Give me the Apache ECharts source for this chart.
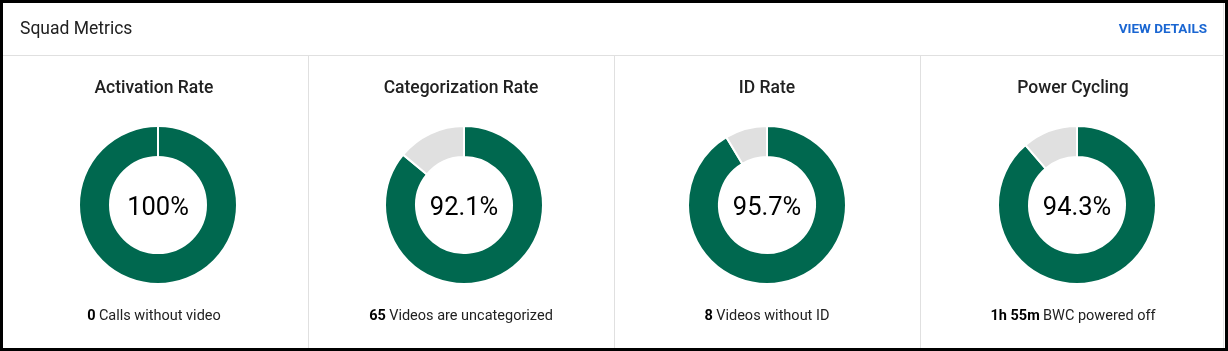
<!DOCTYPE html>
<html>
<head>
<meta charset="utf-8">
<script src="https://cdn.jsdelivr.net/npm/echarts@6/dist/echarts.min.js"></script>
<style>
html,body{margin:0;padding:0;background:#fff;}
#c{width:1228px;height:351px;}
</style>
</head>
<body>
<div id="c"></div>
<script>
const cardTitle = 'Squad Metrics';
const linkText = 'VIEW DETAILS';
const panelTitles = ['Activation Rate', 'Categorization Rate', 'ID Rate', 'Power Cycling'];
const centerLabels = ['100%', '92.1%', '95.7%', '94.3%'];
const filledValues = [100, 86, 91.4, 88.7];
const remainingValues = [0, 14, 8.6, 11.3];
const footnoteCounts = ['0', '65', '8', '1h 55m'];
const footnoteTexts = ['Calls without video', 'Videos are uncategorized', 'Videos without ID', 'BWC powered off'];

const GREEN = '#00684f';
const GREY = '#e0e0e0';
const FONT = 'Roboto, "Noto Sans", sans-serif';

const chart = echarts.init(document.getElementById('c'), null, {renderer: 'canvas'});

const panelCenters = [154, 461, 767, 1073];
const donutCenters = [158, 464, 767, 1077];
const DONUT_Y = 205;

const graphics = [
  {type: 'rect', shape: {x: 1.5, y: 1.5, width: 1225, height: 348}, style: {fill: '#fff', stroke: '#000', lineWidth: 3}, z: 0},
  {type: 'line', shape: {x1: 1223.5, y1: 3, x2: 1223.5, y2: 348}, style: {stroke: '#e6e6e6', lineWidth: 1}, z: 1},
  {type: 'line', shape: {x1: 3, y1: 55.5, x2: 1223, y2: 55.5}, style: {stroke: '#e0e0e0', lineWidth: 1}, z: 1},
  {type: 'text', x: 20, y: 29.5, style: {text: cardTitle, font: '17.5px ' + FONT, fill: '#212121', verticalAlign: 'middle', align: 'left'}, z: 2},
  {type: 'text', x: 1207, y: 30, style: {text: linkText, font: 'bold 13.5px ' + FONT, fill: '#1a66d2', verticalAlign: 'middle', align: 'right'}, z: 2}
];
[308, 614, 920].forEach(x => {
  graphics.push({type: 'line', shape: {x1: x + 0.5, y1: 56, x2: x + 0.5, y2: 348}, style: {stroke: '#e0e0e0', lineWidth: 1}, z: 1});
});
panelTitles.forEach((t, i) => {
  graphics.push({type: 'text', x: panelCenters[i], y: 88.5, style: {text: t, font: '500 17.5px ' + FONT, fill: '#212121', align: 'center', verticalAlign: 'middle'}, z: 2});
  graphics.push({type: 'text', x: donutCenters[i], y: DONUT_Y + 4, style: {text: centerLabels[i], font: '25.5px ' + FONT, fill: '#000', align: 'center', verticalAlign: 'middle'}, z: 10});
  graphics.push({
    type: 'text', x: panelCenters[i], y: 316,
    style: {
      text: '{b|' + footnoteCounts[i] + '} {n|' + footnoteTexts[i] + '}',
      align: 'center', verticalAlign: 'middle',
      rich: {
        b: {font: 'bold 14.5px ' + FONT, fill: '#000'},
        n: {font: '14.5px ' + FONT, fill: '#212121'}
      }
    }, z: 2
  });
});

const series = panelTitles.map((t, i) => ({
  type: 'pie',
  center: [donutCenters[i], DONUT_Y],
  radius: [48, 79],
  startAngle: 90,
  clockwise: true,
  silent: true,
  animation: false,
  avoidLabelOverlap: false,
  label: {show: false},
  labelLine: {show: false},
  itemStyle: {borderColor: '#fff', borderWidth: 2},
  data: [
    {value: filledValues[i], name: 'filled', itemStyle: {color: GREEN}},
    {value: remainingValues[i], name: 'rest', itemStyle: {color: GREY}}
  ],
  stillShowZeroSum: true,
  z: 3
}));

chart.setOption({
  animation: false,
  graphic: graphics,
  series: series
});
</script>
</body>
</html>
